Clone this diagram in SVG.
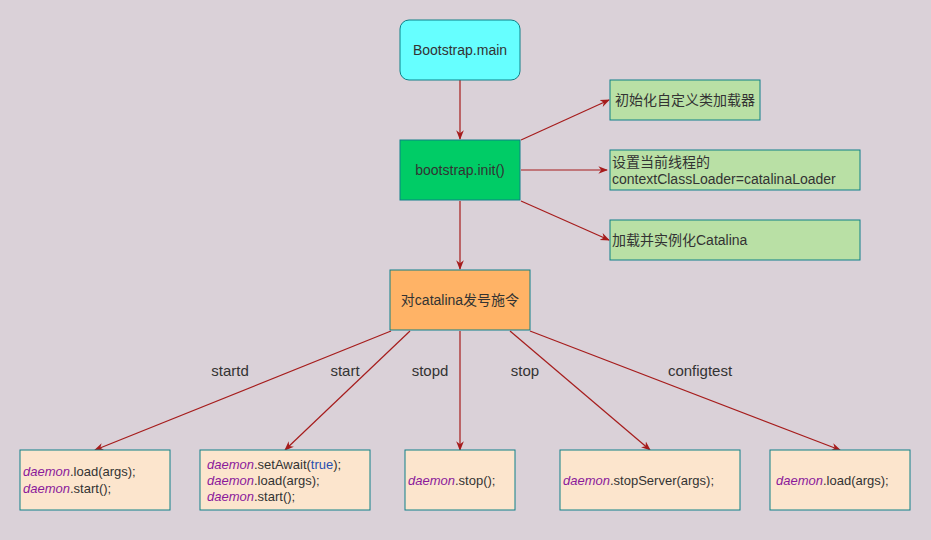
<svg xmlns="http://www.w3.org/2000/svg" width="931" height="540" viewBox="0 0 931 540">
<style>
text{font-family:"Liberation Sans","Noto Sans CJK SC",sans-serif;fill:#333;font-size:14px}
.g rect{fill:#b9e0a5;stroke:#0e8088}
.c rect{fill:#fce5cd;stroke:#0e8088}
.c text{font-size:13px}
.d{fill:#8b1a9b;font-style:italic}
.l{font-size:15px;fill:#333;text-anchor:middle}
.e{stroke:#a61c1c;stroke-width:1.2;fill:none;marker-end:url(#a)}
</style>
<defs><marker id="a" viewBox="0 0 10 10" refX="9" refY="5" markerWidth="8" markerHeight="8" orient="auto"><path d="M0,1 L10,5 L0,9 L3,5z" fill="#a61c1c"/></marker></defs>
<rect width="931" height="540" fill="#dad1d8"/>
<g id="edges">
<path class="e" d="M460,80 V139"/>
<path class="e" d="M521,140 L609,100"/>
<path class="e" d="M521,170 H607"/>
<path class="e" d="M521,201 L609,240"/>
<path class="e" d="M460,201 V269"/>
<path class="e" d="M391,331 L95,450"/>
<path class="e" d="M410,331 L285,450"/>
<path class="e" d="M460,331 V450"/>
<path class="e" d="M510,331 L650,450"/>
<path class="e" d="M530,331 L840,450"/>
<text class="l" x="230" y="376">startd</text>
<text class="l" x="345" y="376">start</text>
<text class="l" x="430" y="376">stopd</text>
<text class="l" x="525" y="376">stop</text>
<text class="l" x="700" y="376">configtest</text>
</g>
<g id="main"><rect x="400" y="20" width="120" height="60" rx="9" fill="#66ffff" stroke="#0e8088"/><text x="460" y="55" text-anchor="middle" font-size="15">Bootstrap.main</text></g>
<g id="init"><rect x="400" y="140" width="120" height="60" fill="#00cc66" stroke="#0e8088"/><text x="460" y="175" text-anchor="middle" font-size="15">bootstrap.init()</text></g>
<g id="n1" class="g"><rect x="610" y="80" width="150" height="40"/><text x="615" y="105" font-size="13">初始化自定义类加载器</text></g>
<g id="n2" class="g"><rect x="610" y="150" width="250" height="40"/><text x="612" y="167" font-size="13">设置当前线程的</text><text x="612" y="184" font-size="13">contextClassLoader=catalinaLoader</text></g>
<g id="n3" class="g"><rect x="610" y="220" width="250" height="40"/><text x="612" y="245" font-size="13">加载并实例化Catalina</text></g>
<g id="cmd"><rect x="390" y="270" width="140" height="60" fill="#ffb366" stroke="#0e8088"/><text x="460" y="305" text-anchor="middle" font-size="14">对catalina发号施令</text></g>
<g id="b1" class="c"><rect x="20" y="450" width="150" height="60"/><text x="23" y="476"><tspan class="d">daemon</tspan>.load(args);</text><text x="23" y="493"><tspan class="d">daemon</tspan>.start();</text></g>
<g id="b2" class="c"><rect x="200" y="450" width="170" height="60"/><text x="207" y="469"><tspan class="d">daemon</tspan>.setAwait(<tspan fill="#2a4fb0">true</tspan>);</text><text x="207" y="485"><tspan class="d">daemon</tspan>.load(args);</text><text x="207" y="501"><tspan class="d">daemon</tspan>.start();</text></g>
<g id="b3" class="c"><rect x="405" y="450" width="110" height="60"/><text x="408" y="485"><tspan class="d">daemon</tspan>.stop();</text></g>
<g id="b4" class="c"><rect x="560" y="450" width="180" height="60"/><text x="563" y="485"><tspan class="d">daemon</tspan>.stopServer(args);</text></g>
<g id="b5" class="c"><rect x="770" y="450" width="140" height="60"/><text x="776" y="485"><tspan class="d">daemon</tspan>.load(args);</text></g>
</svg>
